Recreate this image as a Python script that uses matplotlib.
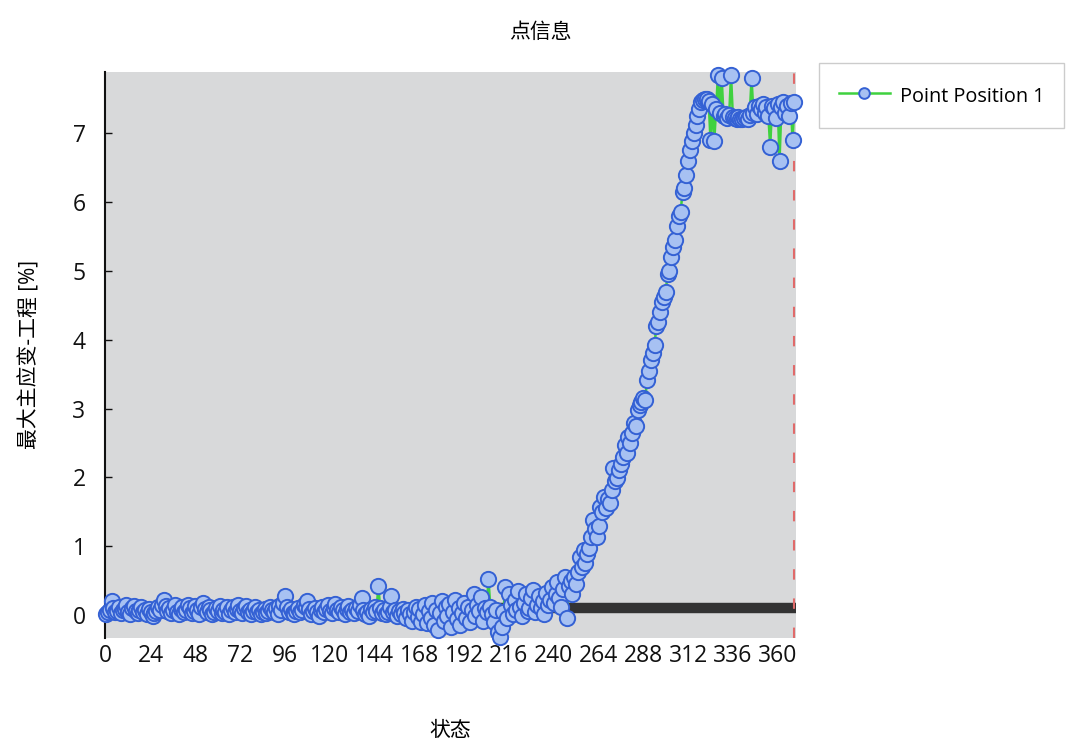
import numpy as np
import matplotlib
matplotlib.use("Agg")
import matplotlib.pyplot as plt

plt.rcParams['font.family'] = ['Open Sans', 'Noto Sans CJK SC', 'DejaVu Sans']

title = "点信息"
x_label = "状态"
y_label = "最大主应变-工程 [%]"
series_name = "Point Position 1"
x_ticks = [0, 24, 48, 72, 96, 120, 144, 168, 192, 216, 240, 264, 288, 312, 336, 360]
y_ticks = [0, 1, 2, 3, 4, 5, 6, 7]
reference_level = 0.1
last_state = 369

# strain per state (states 0..369)
strain = [
    0.02, 0.05, 0.08, 0.20, 0.10, 0.04, 0.06, 0.12, 0.03, 0.07,
    0.09, 0.14, 0.05, 0.02, 0.10, 0.13, 0.06, 0.03, 0.08, 0.11,
    0.04, 0.07, 0.01, 0.09, 0.05, -0.02, 0.03, 0.06, 0.12, 0.08,
    0.15, 0.22, 0.13, 0.06, 0.10, 0.03, 0.08, 0.14, 0.05, 0.02,
    0.09, 0.12, 0.04, 0.07, 0.15, 0.10, 0.03, 0.06, 0.13, 0.08,
    0.02, 0.11, 0.17, 0.09, 0.05, 0.12, 0.07, 0.01, 0.04, 0.10,
    0.06, 0.13, 0.03, 0.08, 0.05, 0.11, 0.02, 0.07, 0.12, 0.04,
    0.09, 0.15, 0.06, 0.03, 0.10, 0.13, 0.05, 0.08, 0.02, 0.06,
    0.11, 0.04, 0.07, 0.01, 0.05, 0.09, 0.03, 0.06, 0.12, 0.08,
    0.04, 0.10, 0.02, 0.13, 0.07, 0.18, 0.28, 0.12, 0.05, 0.09,
    0.03, 0.01, 0.06, 0.10, 0.04, 0.08, 0.14, 0.11, 0.20, 0.09,
    0.02, 0.06, 0.10, 0.04, -0.01, 0.07, 0.12, 0.05, 0.09, 0.14,
    0.06, 0.03, 0.10, 0.16, 0.08, 0.04, 0.11, 0.07, 0.02, 0.09,
    0.13, 0.05, 0.08, 0.03, 0.10, 0.06, 0.15, 0.25, 0.07, 0.02,
    0.05, -0.01, 0.09, 0.04, 0.12, 0.06, 0.42, 0.10, 0.03, 0.07,
    0.01, 0.05, 0.11, 0.28, 0.04, 0.08, -0.02, 0.06, 0.02, 0.09,
    0.03, -0.05, 0.07, 0.01, -0.08, 0.04, 0.12, -0.03, 0.09, -0.10,
    0.02, 0.15, -0.12, 0.06, -0.04, 0.18, -0.15, 0.08, -0.22, 0.03,
    0.20, -0.08, 0.12, -0.02, 0.16, -0.18, 0.05, 0.22, -0.06, 0.10,
    -0.14, 0.03, 0.18, -0.04, 0.12, -0.10, 0.08, 0.30, -0.02, 0.14,
    0.06, 0.26, -0.08, 0.10, 0.04, 0.53, 0.12, 0.02, -0.10, 0.08,
    -0.25, -0.32, -0.18, 0.05, 0.40, -0.05, 0.30, 0.15, 0.02, 0.22,
    0.08, 0.35, 0.12, -0.02, 0.18, 0.30, 0.06, 0.10, 0.24, 0.36,
    0.04, 0.15, 0.28, 0.10, 0.20, 0.02, 0.32, 0.14, 0.22, 0.40,
    0.18, 0.30, 0.48, 0.25, 0.12, 0.38, 0.55, -0.05, 0.42, 0.50,
    0.30, 0.55, 0.45, 0.62, 0.85, 0.70, 0.94, 0.76, 0.88, 0.97,
    1.13, 1.38, 1.25, 1.13, 1.30, 1.57, 1.50, 1.72, 1.55, 1.68,
    1.63, 1.82, 2.14, 1.95, 1.99, 2.10, 2.20, 2.30, 2.47, 2.35,
    2.59, 2.50, 2.65, 2.79, 2.75, 2.98, 3.05, 3.10, 3.15, 3.12,
    3.42, 3.55, 3.70, 3.80, 3.92, 4.20, 4.25, 4.40, 4.55, 4.62,
    4.70, 4.95, 5.00, 5.20, 5.35, 5.45, 5.65, 5.80, 5.85, 6.15,
    6.20, 6.40, 6.60, 6.75, 6.88, 7.00, 7.12, 7.25, 7.35, 7.45,
    7.48, 7.50, 7.50, 7.47, 6.90, 7.42, 6.88, 7.35, 7.85, 7.30,
    7.80, 7.25, 7.28, 7.22, 7.26, 7.85, 7.24, 7.22, 7.20, 7.23,
    7.21, 7.20, 7.22, 7.24, 7.21, 7.26, 7.80, 7.30, 7.38, 7.28,
    7.40, 7.35, 7.42, 7.30, 7.38, 7.25, 6.80, 7.40, 7.36, 7.22,
    7.42, 6.60, 7.38, 7.45, 7.30, 7.40, 7.25, 7.44, 6.90, 7.45,
]
states = np.arange(len(strain))

fig = plt.figure(figsize=(10.8, 7.52), dpi=100)
ax = fig.add_axes([0.0972, 0.1516, 0.6398, 0.7527])
ax.set_facecolor("#d8d9da")

ax.axhline(reference_level, color="#333333", lw=7.5, zorder=1, solid_capstyle="butt")
line, = ax.plot(states, strain, color="#3fd13f", lw=1.8, marker="o", markersize=11,
                markerfacecolor="#a7c1f2", markeredgecolor="#3461d4", markeredgewidth=1.4,
                label=series_name, zorder=3, clip_on=False)
ax.axvline(last_state, color="#e06a6a", lw=1.5, dashes=(5, 9), zorder=2)

ax.set_xlim(-0.5, 369.8)
ax.set_ylim(-0.334, 7.89)
ax.set_xticks(x_ticks)
ax.set_yticks(y_ticks)
ax.tick_params(axis="x", length=0, pad=4, labelsize=16.5, colors="#111111")
ax.tick_params(axis="y", direction="in", length=5, width=1, pad=14, labelsize=16.5, colors="#111111")
for s in ["top", "right", "bottom"]:
    ax.spines[s].set_visible(False)
ax.spines["left"].set_linewidth(1.5)
ax.spines["left"].set_color("#111111")

ax.set_xlabel(x_label, fontsize=15)
ax.xaxis.set_label_coords(0.5, -0.145)
ax.set_ylabel(y_label, fontsize=15)
ax.yaxis.set_label_coords(-0.093, 0.5)
fig.text(0.5, 1 - 32 / 752, title, ha="center", va="center", fontsize=15)

leg = fig.legend(handles=[line], loc="upper left", bbox_to_anchor=(0.758, 0.916),
                 fontsize=14.3, frameon=True, fancybox=False, framealpha=1,
                 edgecolor="#cccccc", borderpad=1.0, handlelength=2.6, handleheight=1.6,
                 handletextpad=0.5, markerscale=0.7, borderaxespad=0)
leg.get_frame().set_linewidth(1.0)

fig.savefig("out.png", dpi=100)
